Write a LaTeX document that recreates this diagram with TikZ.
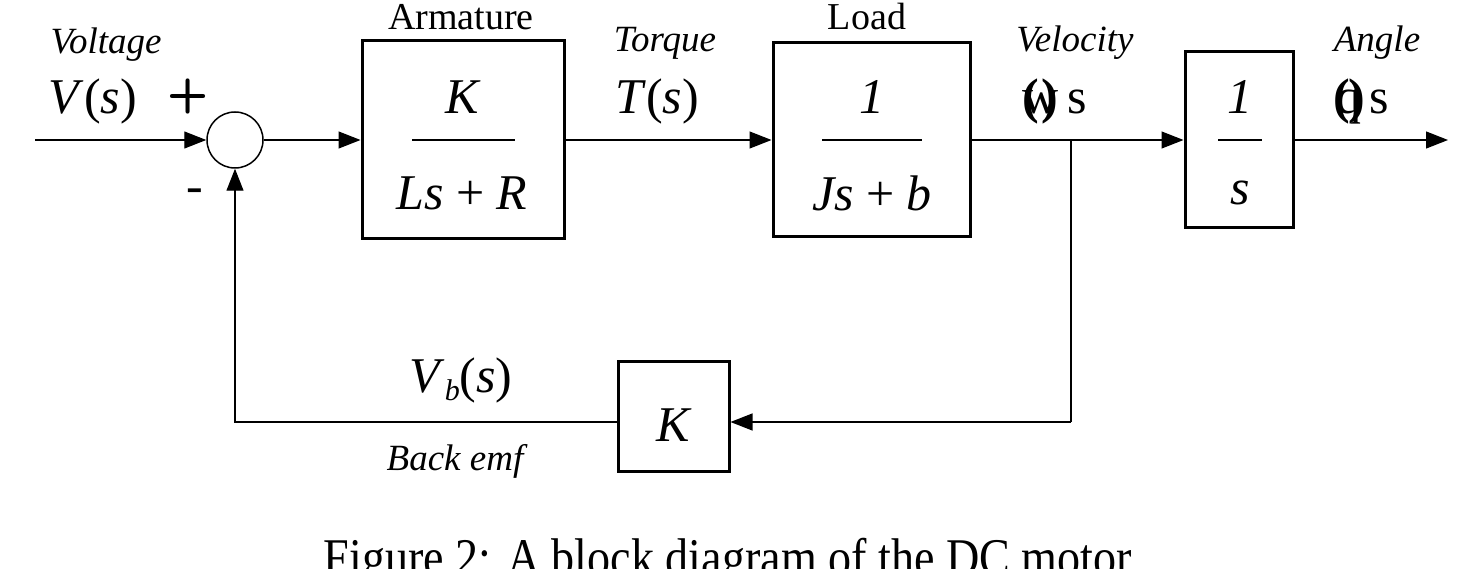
\documentclass[tikz,border=0pt]{standalone}
\usepackage{fontspec}
\setmainfont{Liberation Serif}
\newfontfamily\capfont[FakeStretch=0.87]{Liberation Serif}
\usetikzlibrary{arrows.meta}
\begin{document}
\begin{tikzpicture}[x=1pt,y=-1pt,
  blk/.style={draw,line width=3pt,inner sep=0pt},
  ln/.style={line width=1.2pt},
  arr/.style={ln,-{Triangle[length=22pt,width=17pt]}},
  lab/.style={font=\fontsize{37}{37}\selectfont\itshape,inner sep=0pt},
  big/.style={font=\fontsize{50}{50}\selectfont,inner sep=0pt},
  ttl/.style={font=\fontsize{38}{38}\selectfont,inner sep=0pt}]
\useasboundingbox (0,0) rectangle (1481,569);
% blocks
\node[blk,minimum width=202pt,minimum height=198pt] (arm) at (463,140) {};
\node[blk,minimum width=197pt,minimum height=194pt] (load) at (871.5,140) {};
\node[blk,minimum width=108pt,minimum height=176pt] (int) at (1239,140) {};
\node[blk,minimum width=111pt,minimum height=109pt] (kb) at (673.5,416.5) {};
\node[draw,circle,line width=1.5pt,minimum size=56pt,inner sep=0pt] (sum) at (235,140) {};
% block contents
\node[big,font=\fontsize{50}{50}\selectfont\itshape] (k1) at (462,97) {K};
\draw[line width=2.5pt] (412,140) -- (515,140);
\node[big] (den1) at (462,193) {\textit{Ls} + \textit{R}};
\node[big,font=\fontsize{50}{50}\selectfont\itshape] (n2) at (872,97) {1};
\draw[line width=2.5pt] (822,140) -- (922,140);
\node[big] (den2) at (872,193) {\textit{Js} + \textit{b}};
\node[big,font=\fontsize{50}{50}\selectfont\itshape] (n3) at (1240,97) {1};
\draw[line width=2.5pt] (1218,140) -- (1262,140);
\node[big,font=\fontsize{50}{50}\selectfont\itshape] (d3) at (1240,193) {s};
\node[big,font=\fontsize{50}{50}\selectfont\itshape] (kk) at (673,425) {K};
% titles and labels
\node[ttl] (t1) at (461,17) {Armature};
\node[ttl] (t2) at (867,17) {Load};
\node[lab] (l1) at (106,45) {Voltage};
\node[big] (l1b) at (93,101) {\textit{V}(\textit{s})};
\node[inner sep=0pt,font=\fontfamily{LiberationSans}\sffamily\bfseries\fontsize{48}{48}\selectfont] (plus) at (188,97) {+};
\node[big] (minus) at (195,196) {-};
\node[lab] (l2) at (665,43) {Torque};
\node[big] (l2b) at (657,101) {\textit{T}(\textit{s})};
\node[lab] (l3) at (1075,43) {Velocity};
\node[big] (l3b) at (1055,101) {\textbf{(}\kern-17pt w\kern-17pt\textbf{)}\kern10pt s};
\node[lab] (l4) at (1377,43) {Angle};
\node[big] (l4b) at (1361,101) {\textbf{(}\kern-13pt q\kern-13pt\textbf{)}\kern4pt s};
\node[big] (l5) at (461,380) {\textit{V}\raisebox{-8pt}{\fontsize{30}{30}\selectfont\textit{b}}(\textit{s})};
\node[lab] (l6) at (455,461) {Back emf};
\node[inner sep=0pt,font=\capfont\fontsize{53}{53}\selectfont] (cap) at (728,563) {Figure 2: A block diagram of the DC motor};
% connectors
\coordinate (in) at (35,140);
\coordinate (out) at (1448,140);
\coordinate (j) at (1071,140);
\coordinate (jd) at (1071,422);
\coordinate (fl) at (235,422);
\draw[arr] (in) -- (sum.west);
\draw[arr] (sum.east) -- (arm.west);
\draw[arr] (arm.east) -- (load.west);
\draw[arr] (load.east) -- (int.west);
\draw[arr] (int.east) -- (out);
\draw[ln] (j) -- (jd);
\draw[arr] (jd) -- (kb.east |- jd);
\draw[arr] (kb.west |- fl) -- (fl) -- (sum.south);
\end{tikzpicture}
\end{document}
